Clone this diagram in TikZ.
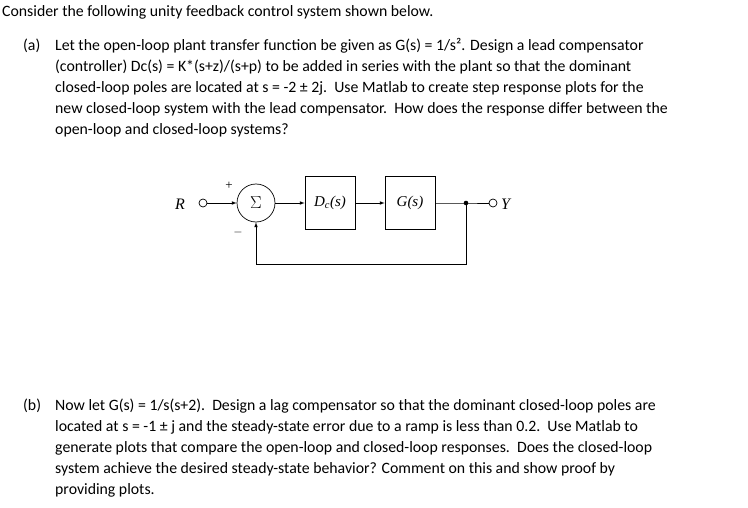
\documentclass[tikz,border=0pt]{standalone}
\usepackage{fontspec}
\setmainfont{Carlito}
\newfontfamily\bdfont{Liberation Serif}
\begin{document}
\begin{tikzpicture}[x=1pt,y=-1pt,
  txt/.style={anchor=base west,inner sep=0pt,font=\fontsize{15.8}{20}\selectfont},
  blk/.style={draw,line width=0.7pt,minimum width=50pt,minimum height=53pt,font=\bdfont\fontsize{15}{15}\selectfont\itshape},
  ln/.style={line width=0.7pt},
  arr/.style={ln,-latex},
  term/.style={circle,draw,line width=0.7pt,inner sep=0pt,minimum size=8pt},
  lbl/.style={font=\bdfont\fontsize{16}{16}\selectfont\itshape,inner sep=0pt},
  sign/.style={font=\bdfont\fontsize{13}{13}\selectfont,inner sep=0pt},
  sumnode/.style={circle,draw,line width=0.7pt,minimum size=38pt,inner sep=0pt,font=\fontsize{18}{18}\selectfont}]
\useasboundingbox (0,0) rectangle (748,508);
\node[txt] (t0) at (2,17) {Consider the following unity feedback control system shown below.};
\node[txt] (a0) at (23,51) {(a)};
\node[txt] (a1) at (55,51) {Let the open-loop plant transfer function be given as G(s) = 1/s². Design a lead compensator};
\node[txt] (a2) at (55,72) {(controller) Dc(s) = K*(s+z)/(s+p) to be added in series with the plant so that the dominant};
\node[txt] (a3) at (55,93) {closed-loop poles are located at s = -2 ± 2j.\ \ Use Matlab to create step response plots for the};
\node[txt] (a4) at (55,114) {new closed-loop system with the lead compensator.\ \ How does the response differ between the};
\node[txt] (a5) at (55,135) {open-loop and closed-loop systems?};
\node[txt] (b0) at (23,410) {(b)};
\node[txt] (b1) at (55,410) {Now let G(s) = 1/s(s+2).\ \ Design a lag compensator so that the dominant closed-loop poles are};
\node[txt] (b2) at (55,431) {located at s = -1 ± j and the steady-state error due to a ramp is less than 0.2.\ \ Use Matlab to};
\node[txt] (b3) at (55,452) {generate plots that compare the open-loop and closed-loop responses.\ \ Does the closed-loop};
\node[txt] (b4) at (55,473) {system achieve the desired steady-state behavior? Comment on this and show proof by};
\node[txt] (b5) at (55,494) {providing plots.};
% diagram
\node[lbl] (R) at (180,204) {R};
\node[term] (rin) at (203,203) {};
\node[sumnode] (sum) at (256,203) {$\Sigma$};
\node[blk] (dc) at (330,203) {D\textsubscript{c}(s)};
\node[blk] (g) at (410,203) {G(s)};
\coordinate (dot) at (466,203);
\node[term] (yout) at (493,203) {};
\node[lbl,anchor=west] (Y) at (501,204) {Y};
\node[sign] (plus) at (229,186) {+};
\node[sign] (minus) at (238,233) {$-$};
\draw[arr] (rin) -- (sum);
\draw[arr] (sum) -- (dc);
\draw[arr] (dc) -- (g);
\draw[ln] (g) -- (dot) -- (yout);
\fill (dot) circle (2.3pt);
\draw[arr] (dot) |- (256,264) -- (sum.south);
\end{tikzpicture}
\end{document}
